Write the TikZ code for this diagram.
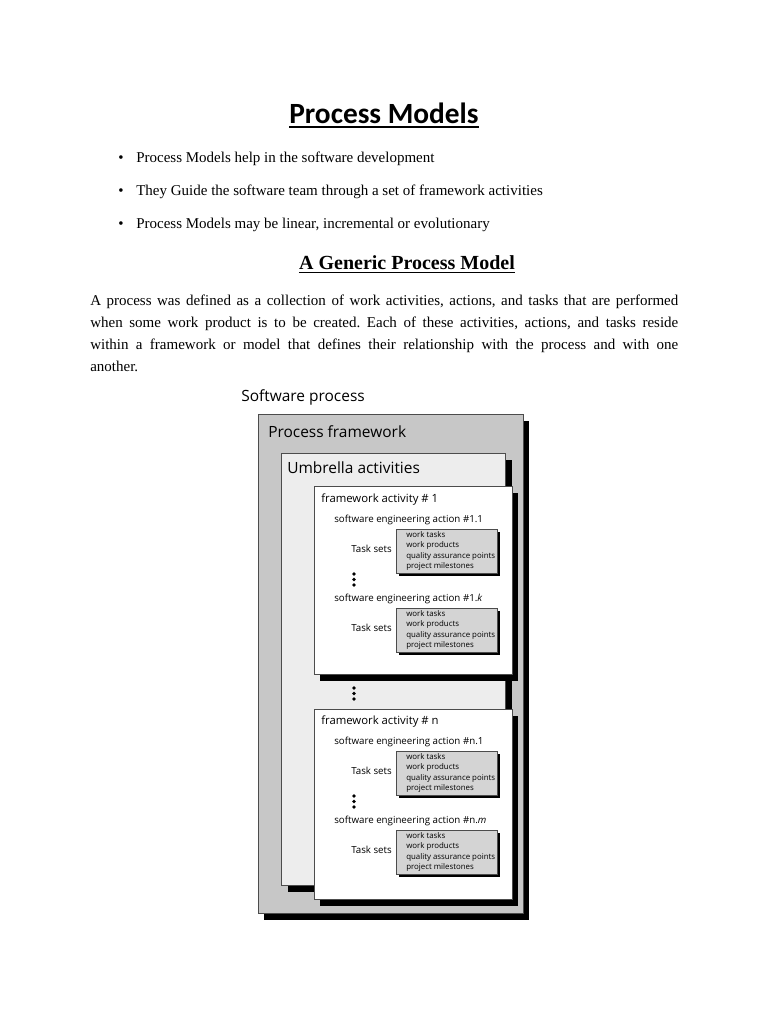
\documentclass[tikz,border=0pt]{standalone}
\usepackage{fontspec}
\setmainfont{Liberation Serif}
\newfontfamily\titlefont{Carlito}
\newfontfamily\figfont{Open Sans}
\usetikzlibrary{positioning}
\frenchspacing

\begin{document}
\begin{tikzpicture}[x=0.75pt,y=-0.75pt]
	\tikzset{
		body/.style={inner sep=0pt,anchor=base west,font=\fontsize{11.25}{16.5}\selectfont},
		panel/.style={draw=black!70,line width=0.5pt},
		shade/.style={fill=black},
		big/.style={inner sep=0pt,anchor=base west,font=\figfont\fontsize{11.6}{14}\selectfont},
		mid/.style={inner sep=0pt,anchor=base west,font=\figfont\fontsize{8.5}{10}\selectfont},
		small/.style={inner sep=0pt,anchor=base west,font=\figfont\fontsize{7.3}{9}\selectfont},
		tiny/.style={inner sep=0pt,anchor=base west,font=\figfont\fontsize{5.9}{7}\selectfont},
		dot/.style={circle,fill=black,inner sep=0pt,minimum size=2.8pt},
	}
	\useasboundingbox[fill=white] (0,0) rectangle (768,1024);
	
	% page text
	\node[inner sep=0pt,anchor=base,font=\titlefont\bfseries\fontsize{22}{26}\selectfont] (ttl) at (384,123) {Process Models};
	\draw[line width=1.4pt] ([yshift=-3pt]ttl.base west) -- ([yshift=-3pt]ttl.base east);
	\foreach \t [count=\i] in {Process Models help in the software development,
		They Guide the software team through a set of framework activities,
		Process Models may be linear{,} incremental or evolutionary} {
		\node[body] (bul\i) at (118,129+33*\i) {\textbullet};
		\node[body] (line\i) at (136,129+33*\i) {\t};
	}
	\node[inner sep=0pt,anchor=base,font=\bfseries\fontsize{15}{17}\selectfont] (head) at (407,269) {A Generic Process Model};
	\draw[line width=0.9pt] ([yshift=-2.5pt]head.base west) -- ([yshift=-2.5pt]head.base east);
	\node[body,anchor=north west,text width=441pt,align=justify] (para) at (90,295) {A process was defined as a collection of work activities, actions, and tasks that are performed\linebreak when some work product is to be created. Each of these activities, actions, and tasks reside\linebreak within a framework or model that defines their relationship with the process and with one\linebreak another.};
	
	% nested frames
	\node[big] (sp) at (241,401) {Software process};
	\fill[shade] (264,421) rectangle (529,920);
	\draw[panel,fill=black!22] (258,414) rectangle (523,913);
	\node[big] (pf) at (268,437) {Process framework};
	\fill[shade] (288,460) rectangle (512,892);
	\draw[panel,fill=black!7] (281,453) rectangle (505,885);
	\node[big] (ua) at (287,473) {Umbrella activities};
	\fill[shade] (320,493) rectangle (518,681);
	\draw[panel,fill=white] (314,486) rectangle (512,674);
	\node[mid] (fa1) at (321,502) {framework activity \# 1};
	\fill[shade] (320,716) rectangle (518,906);
	\draw[panel,fill=white] (314,709) rectangle (512,899);
	\node[mid] (fan) at (321,724) {framework activity \# n};
	
	% task sets
	\foreach \y/\a [count=\k] in {529/\#1.1, 608/\#1.\textit{k}, 751/\#n.1, 830/\#n.\textit{m}} {
		\node[small] (act\k) at (334,\y-7) {software engineering action \a};
		\fill[shade] (399,\y+3) rectangle (500,\y+47);
		\draw[panel,fill=black!17] (396,\y) rectangle (497,\y+44);
		\node[small] (ts\k) at (351,\y+23) {Task sets};
		\foreach \t [count=\j] in {work tasks, work products, quality assurance points, project milestones}
			\node[tiny] (it\k\j) at (406,\y-2.5+10.5*\j) {\t};
	}
	
	% dots
	\foreach \y [count=\k] in {574, 688, 796}
		\foreach \d in {0,1,2}
			\node[dot] (dot\k\d) at (354,\y+5.5*\d) {};
\end{tikzpicture}
\end{document}
